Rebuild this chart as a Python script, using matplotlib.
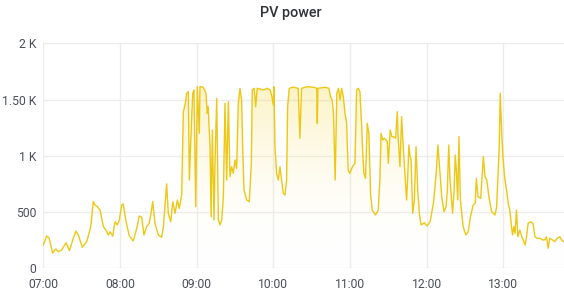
import matplotlib
matplotlib.use("Agg")
import matplotlib.pyplot as plt
import numpy as np
from matplotlib.colors import LinearSegmentedColormap
from matplotlib.patches import PathPatch

# minutes after 07:00 and PV power in W
MINUTES = [
    0, 2.6, 4.5, 7.3, 9.7, 11.7, 14.4, 17.8, 20.4, 23.5, 25.6, 27.4, 30.5, 34, 37.1,
    39.1, 40.5, 42.3, 44.4, 47, 49, 50.9, 52.2, 54.3, 56.1, 57.9, 59.5, 61.3, 62.6,
    64.5, 67.3, 70.4, 73.1, 75.1, 77, 78.8, 80.9, 82.9, 84.3, 85.6, 87.4, 90, 92.6,
    94, 96.5, 97.8, 99.7, 101.3, 103.1, 104.9, 106.4, 108.3, 109.6, 110.9, 112.2,
    113.5, 114.3, 115.2, 116.9, 117.9, 119.3, 120.5, 122.1, 122.6, 125.2, 127.3,
    128.3, 129, 130.5, 131.3, 132.3, 133.6, 134.3, 135.7, 137, 138.3, 139.6, 140.9,
    142.2, 143.5, 144.8, 146.1, 147.4, 148.7, 150, 151.3, 152.6, 153.9, 155.2, 156,
    157.1, 159.2, 161.2, 162.8, 163.5, 165.1, 166.2, 167.4, 172.5, 175.1, 177.5,
    178.7, 180, 180.5, 181.3, 182.6, 183.9, 185.2, 186.5, 187.8, 189.1, 190.4, 191.2,
    192.5, 195.6, 199.5, 200.8, 202.1, 206.5, 211.7, 214, 214.4, 214.9, 220.5, 223.5,
    224.8, 226.1, 227.1, 228.4, 229.7, 231, 232.2, 233.5, 234.8, 236.1, 237.4, 238.6,
    239.9, 241.9, 243.9, 245.2, 246.5, 247.8, 249.3, 250, 250.9, 252.2, 253.5, 254.8,
    256.1, 257.4, 260, 262.1, 263.4, 264.3, 265.7, 267, 269.2, 270, 271.5, 272.8,
    274.1, 275.7, 277, 277.8, 279.1, 280.4, 281.7, 283, 284.3, 285.1, 286.1, 286.9,
    287.8, 289.1, 290.4, 291.7, 293, 294.3, 295.6, 298.2, 300.3, 302.7, 305.3, 307.5,
    308.8, 310.1, 311.8, 313.6, 315.2, 316.2, 317.3, 318.3, 320.3, 321.5, 322.4,
    323.4, 324.3, 325.3, 326.4, 328.6, 330.7, 332.5, 334.3, 336.4, 338, 338.9, 340.2,
    342.3, 344.4, 345.7, 347.1, 348.9, 350.9, 353.5, 354.8, 356.8, 357.6, 358.7,
    359.7, 361, 363.1, 363.8, 365.1, 366.4, 367.2, 368.2, 369.2, 370.3, 371.4, 372.9,
    374.5, 376.1, 377.1, 378.2, 379.4, 381.3, 383.3, 384.7, 386.5, 388.6, 390.7,
    392.5, 393.8, 395.1, 396.4, 398.5, 400.3, 402.1, 404.2, 405.5, 407.3,
]
POWER_W = [
    207, 287, 270, 136, 172, 148, 163, 228, 157, 267, 331, 296, 187, 237, 370,
    592, 563, 548, 518, 370, 340, 296, 325, 287, 414, 385, 429, 563, 571,
    429, 287, 243, 355, 465, 453, 296, 370, 400, 489, 592, 400, 296, 276,
    370, 750, 489, 414, 592, 489, 607, 533, 652, 1392, 1452, 1556,
    1570, 785, 1081, 1556, 1585, 548, 1614, 1200, 1614, 1609, 1556,
    1378, 1436, 1081, 459, 1229, 429, 903, 1511, 429, 385, 429, 636,
    1467, 785, 1481, 815, 903, 844, 963, 889, 1467, 1600, 1496, 1081,
    696, 607, 592, 933, 1585, 1600, 1436, 1600, 1585, 1600, 1585,
    1540, 1452, 1614, 1081, 844, 785, 903, 785, 667, 652, 785, 1436,
    1600, 1609, 1600, 1156, 1600, 1614, 1609, 1600, 1289, 1600, 1609, 1600,
    1525, 1496, 1378, 785, 1556, 1600, 1496, 1600, 1525, 1378, 1289, 874,
    844, 903, 933, 1585, 1600, 1570, 1229, 1022, 844, 800, 1289, 1200,
    667, 518, 474, 518, 785, 1200, 1140, 1156, 1126, 933, 1229, 1170,
    1170, 1156, 1392, 1140, 903, 1348, 1081, 844, 607, 785, 1096, 1007,
    963, 489, 607, 1081, 696, 489, 385, 405, 376, 414, 578, 844,
    1096, 903, 636, 503, 548, 696, 1096, 785, 489, 696, 1007,
    844, 607, 1170, 607, 370, 296, 325, 459, 563, 578, 800, 636,
    622, 992, 815, 785, 622, 503, 474, 548, 1081, 1556, 1229,
    992, 815, 652, 578, 518, 370, 296, 370, 311, 518, 281, 340,
    281, 237, 207, 281, 400, 414, 400, 281, 267, 267, 252,
    252, 281, 178, 267, 252, 237, 267, 281, 252, 237,
]

TICK_MINUTES = [0, 60, 120, 180, 240, 300, 360]
TICK_LABELS = ["07:00", "08:00", "09:00", "10:00", "11:00", "12:00", "13:00"]
Y_TICKS = [0, 500, 1000, 1500, 2000]
Y_LABELS = ["0", "500", "1 K", "1.50 K", "2 K"]

LINE_COLOR = "#EDC716"
GRID_COLOR = "#ECECEC"
TEXT_COLOR = "#4A4F57"
TITLE_COLOR = "#2F3338"

plt.rcParams["font.family"] = ["Roboto", "DejaVu Sans"]

fig = plt.figure(figsize=(5.64, 3.0), dpi=100, facecolor="white")
ax = fig.add_axes((0.0768, 0.1057, 0.9232, 0.75))

t = np.array(MINUTES)
v = np.array(POWER_W)
x_max = 407.5

# gradient fill under the line, clipped to the area
fill = ax.fill_between(t, v, 0, facecolor="none", edgecolor="none")
clip = PathPatch(fill.get_paths()[0], transform=ax.transData, facecolor="none", edgecolor="none")
ax.add_patch(clip)
cmap = LinearSegmentedColormap.from_list(
    "fade", [(1, 1, 1, 0), (242 / 255, 204 / 255, 12 / 255, 0.36)]
)
grad = np.linspace(0, 1, 256).reshape(-1, 1)
img = ax.imshow(grad, cmap=cmap, extent=(0, x_max, 0, 2000), origin="lower",
                aspect="auto", zorder=1, interpolation="bicubic")
img.set_clip_path(clip)

ax.plot(t, v, color=LINE_COLOR, linewidth=1.0, zorder=3)

ax.set_xlim(0, x_max)
ax.set_ylim(0, 2000)
ax.set_xticks(TICK_MINUTES, TICK_LABELS)
ax.set_yticks(Y_TICKS, Y_LABELS)
ax.tick_params(axis="both", length=0, colors=TEXT_COLOR, labelsize=8.7)
ax.tick_params(axis="x", pad=7)
ax.tick_params(axis="y", pad=5)
ax.grid(True, color=GRID_COLOR, linewidth=1.0)
ax.set_axisbelow(True)
for spine in ax.spines.values():
    spine.set_visible(False)

fig.text(0.516, 0.955, "PV power", ha="center", va="center", fontsize=10.4,
         fontweight="medium", color=TITLE_COLOR)

fig.savefig("out.png", dpi=100, facecolor="white")
